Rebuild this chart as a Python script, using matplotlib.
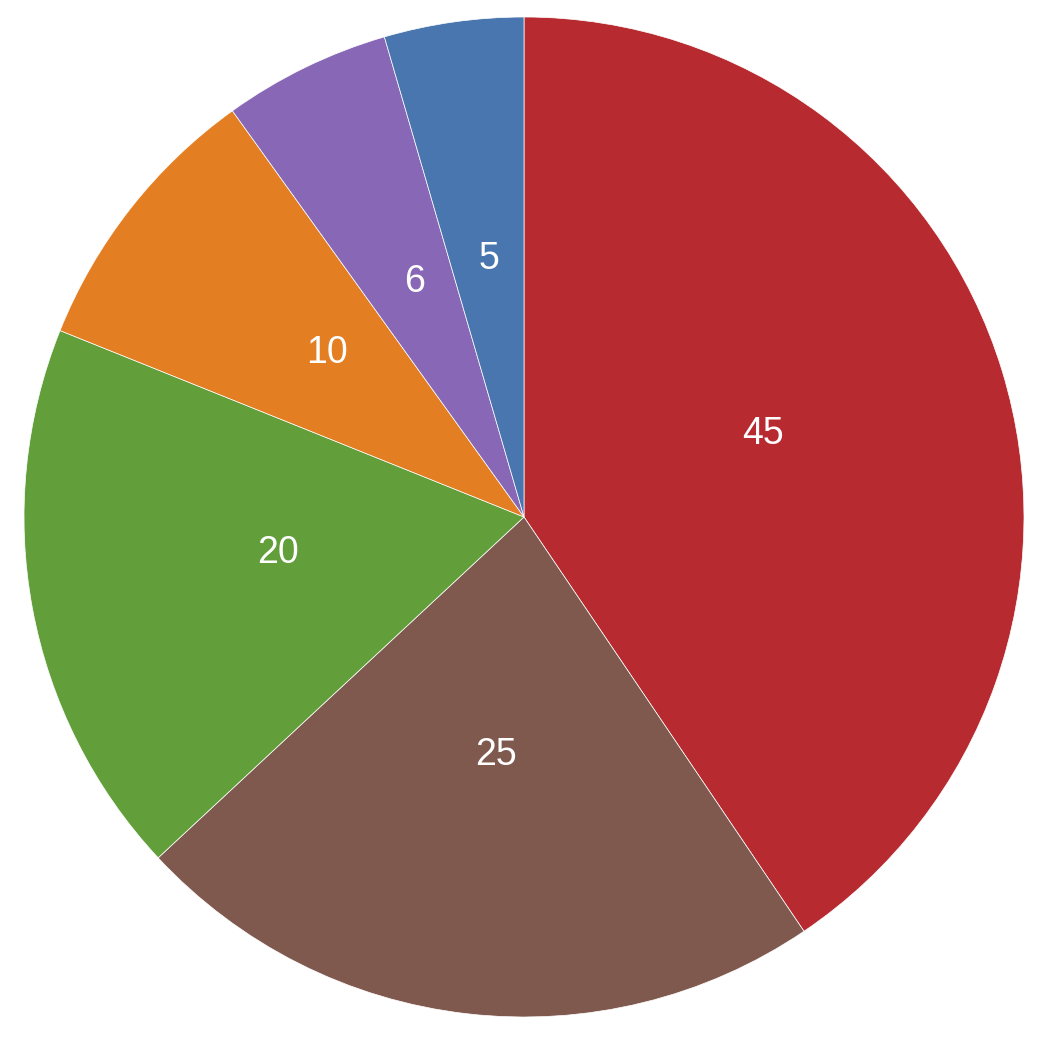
import matplotlib.pyplot as plt

# slice values, clockwise from 12 o'clock
values = [45, 25, 20, 10, 6, 5]
colors = ['#b72a2f', '#7f594e', '#629f3b', '#e37e22', '#8868b6', '#4976ae']

fig = plt.figure(figsize=(10.64, 10.60), dpi=100)
fig.patch.set_facecolor('white')

# axes placed so the pie sits at the same pixel box as the reference
ax = fig.add_axes([24 / 1064, (1060 - 1017) / 1060, 1000 / 1064, 1000 / 1060])

wedges, texts = ax.pie(values, colors=colors, startangle=90, counterclock=False,
                       radius=1.0, labels=[str(v) for v in values], labeldistance=0.5,
                       wedgeprops=dict(edgecolor='white', linewidth=0.5))
for t in texts:
    t.set_color('white')
    t.set_fontsize(27)
    t.set_family('Liberation Sans')
    t.set_ha('center')
    t.set_va('baseline')

ax.set_xlim(-1, 1)
ax.set_ylim(-1, 1)
ax.set_aspect('auto')
ax.axis('off')

plt.savefig('out.png', dpi=100, facecolor='white')
plt.close()
